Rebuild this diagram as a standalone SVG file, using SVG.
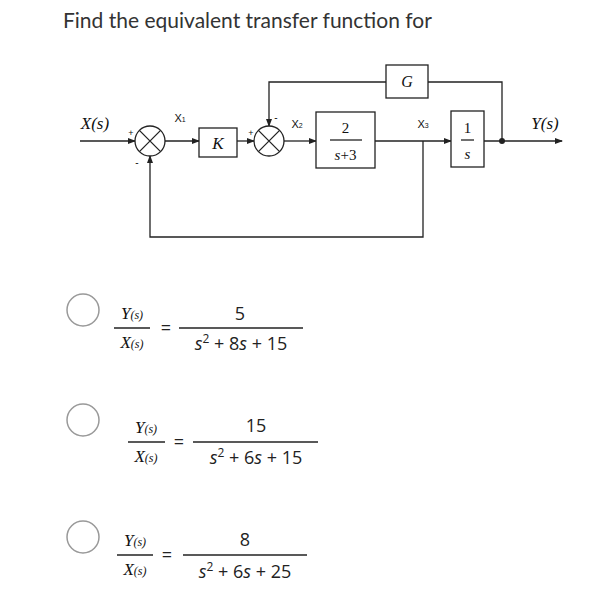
<svg xmlns="http://www.w3.org/2000/svg" width="605" height="596" viewBox="0 0 605 596">
<style>
.l{fill:none;stroke:#222;stroke-width:1.3}
.b{fill:#fff;stroke:#222;stroke-width:1.3}
.m{font-family:"Liberation Serif",serif;font-style:italic;fill:#111}
.n{font-family:"Liberation Serif",serif;fill:#111}
.s{font-family:"Liberation Sans",sans-serif;fill:#111}
.o{font-family:"Open Sans","Liberation Sans",sans-serif;fill:#222}
.r{fill:#fff;stroke:#999;stroke-width:1.5}
</style>
<defs><marker id="a" markerWidth="8" markerHeight="6" refX="7" refY="3" orient="auto" markerUnits="userSpaceOnUse"><path d="M0,0L8,3L0,6z" fill="#222"/></marker></defs>
<rect width="605" height="596" fill="#fff"/>
<text x="63" y="28" font-family="Lato,sans-serif" font-size="21" fill="#333">Find the equivalent transfer function for</text>
<g id="connectors">
<path class="l" d="M80,141H135" marker-end="url(#a)"/>
<path class="l" d="M165,141H199" marker-end="url(#a)"/>
<path class="l" d="M237,141H254" marker-end="url(#a)"/>
<path class="l" d="M284,141H316" marker-end="url(#a)"/>
<path class="l" d="M375,141H451" marker-end="url(#a)"/>
<path class="l" d="M484,141H562" marker-end="url(#a)"/>
<path class="l" d="M502,141V82H428"/>
<path class="l" d="M386,82H269V126" marker-end="url(#a)"/>
<path class="l" d="M423,141V237H150V156" marker-end="url(#a)"/>
<circle cx="502" cy="141" r="3" fill="#222"/>
</g>
<g id="sum1"><circle class="b" cx="150" cy="141" r="15"/><path class="l" d="M139.4,130.4L160.6,151.6M160.6,130.4L139.4,151.6"/></g>
<g id="sum2"><circle class="b" cx="269" cy="141" r="15"/><path class="l" d="M258.4,130.4L279.6,151.6M279.6,130.4L258.4,151.6"/></g>
<g id="K"><rect class="b" x="199" y="128" width="38" height="29"/><text class="m" x="218" y="149" font-size="17" text-anchor="middle">K</text></g>
<g id="P"><rect class="b" x="316" y="112" width="59" height="56"/><text class="n" x="345.5" y="133" font-size="15" text-anchor="middle">2</text><path class="l" d="M330,140H362"/><text class="n" x="345.5" y="160" font-size="15" text-anchor="middle"><tspan font-style="italic">s</tspan>+3</text></g>
<g id="I"><rect class="b" x="451" y="111" width="33" height="56"/><text class="n" x="467.5" y="133" font-size="15" text-anchor="middle">1</text><path class="l" d="M461,140H474"/><text class="m" x="467.5" y="159" font-size="15" text-anchor="middle">s</text></g>
<g id="G"><rect class="b" x="386" y="65" width="42" height="33"/><text class="m" x="407" y="87" font-size="16" text-anchor="middle">G</text></g>
<g id="labels">
<text class="m" x="95" y="129" font-size="17" text-anchor="middle">X(s)</text>
<text class="m" x="545" y="129" font-size="17" text-anchor="middle">Y(s)</text>
<text class="s" x="180" y="122" font-size="11" text-anchor="middle">X<tspan font-size="7">1</tspan></text>
<text class="s" x="297" y="128" font-size="11" text-anchor="middle">X<tspan font-size="7">2</tspan></text>
<text class="s" x="423" y="128" font-size="11" text-anchor="middle">X<tspan font-size="7">3</tspan></text>
<text class="s" x="131" y="136" font-size="9" text-anchor="middle">+</text>
<text class="s" x="137" y="166" font-size="10" text-anchor="middle">-</text>
<text class="s" x="251" y="136" font-size="9" text-anchor="middle">+</text>
<text class="s" x="276" y="121" font-size="10" text-anchor="middle">-</text>
</g>
<g id="opt1">
<circle class="r" cx="83" cy="310" r="16"/>
<text class="m" x="132" y="319" font-size="17" text-anchor="middle">Y<tspan font-size="12">(s)</tspan></text>
<path class="l" d="M114,328H150"/>
<text class="m" x="132" y="348" font-size="17" text-anchor="middle">X<tspan font-size="12">(s)</tspan></text>
<text class="o" x="166" y="334" font-size="18" text-anchor="middle">=</text>
<text class="o" x="240" y="320" font-size="18" text-anchor="middle">5</text>
<path class="l" d="M179,328H303"/>
<text class="o" x="241" y="350" font-size="18" text-anchor="middle"><tspan font-style="italic">s</tspan><tspan font-size="12" dy="-7">2</tspan><tspan dy="7"> + 8</tspan><tspan font-style="italic">s</tspan> + 15</text>
</g>
<g id="opt2">
<circle class="r" cx="83" cy="420" r="16"/>
<text class="m" x="146" y="433" font-size="17" text-anchor="middle">Y<tspan font-size="12">(s)</tspan></text>
<path class="l" d="M128,442H165"/>
<text class="m" x="146" y="462" font-size="17" text-anchor="middle">X<tspan font-size="12">(s)</tspan></text>
<text class="o" x="179" y="448" font-size="18" text-anchor="middle">=</text>
<text class="o" x="256" y="432" font-size="18" text-anchor="middle">15</text>
<path class="l" d="M193,442H318"/>
<text class="o" x="256" y="464" font-size="18" text-anchor="middle"><tspan font-style="italic">s</tspan><tspan font-size="12" dy="-7">2</tspan><tspan dy="7"> + 6</tspan><tspan font-style="italic">s</tspan> + 15</text>
</g>
<g id="opt3">
<circle class="r" cx="83" cy="537" r="16"/>
<text class="m" x="135" y="546" font-size="17" text-anchor="middle">Y<tspan font-size="12">(s)</tspan></text>
<path class="l" d="M117,555H153"/>
<text class="m" x="135" y="575" font-size="17" text-anchor="middle">X<tspan font-size="12">(s)</tspan></text>
<text class="o" x="167" y="561" font-size="18" text-anchor="middle">=</text>
<text class="o" x="245" y="546" font-size="18" text-anchor="middle">8</text>
<path class="l" d="M183,555H307"/>
<text class="o" x="245" y="578" font-size="18" text-anchor="middle"><tspan font-style="italic">s</tspan><tspan font-size="12" dy="-7">2</tspan><tspan dy="7"> + 6</tspan><tspan font-style="italic">s</tspan> + 25</text>
</g>
</svg>
